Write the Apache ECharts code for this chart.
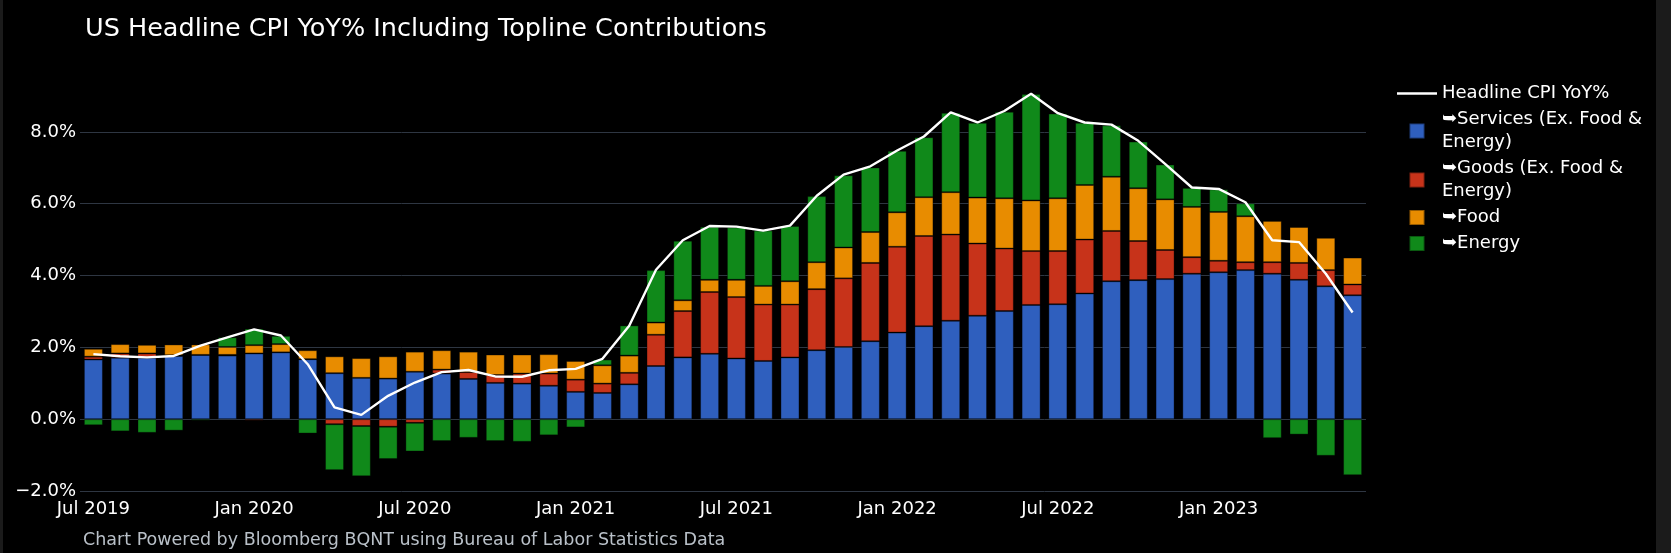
<!DOCTYPE html>
<html>
<head>
<meta charset="utf-8">
<script src="https://cdn.jsdelivr.net/npm/echarts@6/dist/echarts.min.js"></script>
<style>html,body{margin:0;padding:0;background:#000;}#c{width:1671px;height:553px;}</style>
</head>
<body>
<div id="c"></div>
<script>
const categories = ['Jul 2019','Aug 2019','Sep 2019','Oct 2019','Nov 2019','Dec 2019',
  'Jan 2020','Feb 2020','Mar 2020','Apr 2020','May 2020','Jun 2020',
  'Jul 2020','Aug 2020','Sep 2020','Oct 2020','Nov 2020','Dec 2020',
  'Jan 2021','Feb 2021','Mar 2021','Apr 2021','May 2021','Jun 2021',
  'Jul 2021','Aug 2021','Sep 2021','Oct 2021','Nov 2021','Dec 2021',
  'Jan 2022','Feb 2022','Mar 2022','Apr 2022','May 2022','Jun 2022',
  'Jul 2022','Aug 2022','Sep 2022','Oct 2022','Nov 2022','Dec 2022',
  'Jan 2023','Feb 2023','Mar 2023','Apr 2023','May 2023','Jun 2023'];

const services = [1.66,1.71,1.71,1.76,1.79,1.77,1.83,1.86,1.67,1.28,1.15,1.13,
  1.32,1.27,1.12,1.01,0.99,0.93,0.76,0.73,0.97,1.48,1.72,1.82,
  1.69,1.62,1.72,1.92,2.01,2.17,2.41,2.59,2.74,2.88,3.01,3.18,
  3.20,3.50,3.84,3.87,3.90,4.05,4.09,4.15,4.05,3.88,3.70,3.45];
const goods = [0.08,0.12,0.12,0.02,0.00,0.02,-0.04,0.00,0.00,-0.14,-0.19,-0.21,
  -0.10,0.11,0.19,0.22,0.28,0.34,0.34,0.26,0.32,0.87,1.29,1.72,
  1.71,1.57,1.47,1.70,1.91,2.18,2.39,2.51,2.40,2.01,1.74,1.50,
  1.48,1.50,1.40,1.09,0.81,0.46,0.32,0.22,0.32,0.47,0.45,0.30];
const food = [0.22,0.26,0.24,0.30,0.29,0.22,0.23,0.23,0.25,0.47,0.55,0.62,
  0.56,0.54,0.57,0.57,0.53,0.54,0.52,0.51,0.48,0.34,0.30,0.34,
  0.48,0.52,0.65,0.75,0.86,0.86,0.96,1.08,1.18,1.28,1.40,1.41,
  1.47,1.52,1.51,1.47,1.41,1.40,1.36,1.28,1.15,1.00,0.90,0.75];
const energy = [-0.17,-0.34,-0.38,-0.32,-0.04,0.27,0.46,0.23,-0.40,-1.28,-1.40,-0.90,
  -0.80,-0.61,-0.52,-0.61,-0.63,-0.45,-0.23,0.16,0.84,1.46,1.66,1.48,
  1.46,1.54,1.54,1.84,2.01,1.80,1.71,1.67,2.21,2.08,2.41,2.96,
  2.36,1.73,1.43,1.30,0.97,0.53,0.63,0.36,-0.53,-0.43,-1.02,-1.56];
const headline = [1.81,1.75,1.72,1.76,2.05,2.28,2.50,2.33,1.53,0.33,0.12,0.65,
  1.02,1.31,1.37,1.19,1.18,1.36,1.40,1.68,2.60,4.16,4.98,5.38,
  5.36,5.25,5.39,6.22,6.81,7.04,7.48,7.87,8.54,8.26,8.58,9.06,
  8.52,8.26,8.20,7.75,7.11,6.45,6.41,6.04,4.98,4.93,4.05,2.97];
const yTicks = {min: -2, max: 10, interval: 2};

const FONT = 'DejaVu Sans';
const sq = 'path://M0,0h10v10h-10z';
const lineIcon = 'path://M0,0h40v2.4h-40z';
const barBorder = {borderColor: 'rgba(0,0,0,0.35)', borderWidth: 1};

function barSeries(name, data, color) {
  return {
    name: name, type: 'bar', stack: 'c', data: data, barWidth: 19,
    itemStyle: Object.assign({color: color}, barBorder),
    emphasis: {disabled: true}
  };
}

const chart = echarts.init(document.getElementById('c'), null, {renderer: 'canvas'});
chart.setOption({
  backgroundColor: '#000',
  animation: false,
  title: [
    {text: 'US Headline CPI YoY% Including Topline Contributions', left: 80, top: 11,
     textStyle: {color: '#fff', fontSize: 25.5, fontWeight: 'normal', fontFamily: FONT}},
    {text: 'Chart Powered by Bloomberg BQNT using Bureau of Labor Statistics Data', left: 78, top: 526,
     textStyle: {color: '#b9c0c8', fontSize: 17.5, fontWeight: 'normal', fontFamily: FONT}}
  ],
  graphic: [
    {type: 'rect', left: 0, top: 0, shape: {width: 3, height: 553}, style: {fill: '#1b1b1b'}},
    {type: 'rect', right: 0, top: 0, shape: {width: 15, height: 553}, style: {fill: '#1b1b1b'}}
  ],
  legend: {
    orient: 'vertical', left: 1392, top: 77, itemWidth: 40, itemHeight: 15, itemGap: 3,
    selectedMode: false,
    textStyle: {color: '#fff', fontSize: 18, fontFamily: FONT, lineHeight: 23},
    formatter: function (n) { return n.replace('& ', '&\n'); },
    data: [
      {name: 'Headline CPI YoY%', icon: lineIcon},
      {name: '➥Services (Ex. Food & Energy)', icon: sq},
      {name: '➥Goods (Ex. Food & Energy)', icon: sq},
      {name: '➥Food', icon: sq},
      {name: '➥Energy', icon: sq}
    ]
  },
  grid: {left: 80, right: 305, top: 60, bottom: 62, containLabel: false},
  xAxis: {
    type: 'category', data: categories, boundaryGap: true,
    axisLine: {show: false}, axisTick: {show: false},
    axisLabel: {interval: 5, color: '#fff', fontSize: 18, fontFamily: FONT, margin: 9}
  },
  yAxis: {
    type: 'value', min: yTicks.min, max: yTicks.max, interval: yTicks.interval,
    axisLine: {show: false}, axisTick: {show: false},
    splitLine: {show: true, showMaxLine: false, lineStyle: {color: '#2e3642', width: 1}},
    axisLabel: {
      color: '#fff', fontSize: 18, fontFamily: FONT, margin: 4,
      formatter: function (v) {
        if (v >= yTicks.max) return '';
        return (v < 0 ? '\u2212' : '') + Math.abs(v).toFixed(1) + '%';
      }
    }
  },
  series: [
    barSeries('➥Services (Ex. Food & Energy)', services, '#2f5fbe'),
    barSeries('➥Goods (Ex. Food & Energy)', goods, '#c7331a'),
    barSeries('➥Food', food, '#e88c00'),
    barSeries('➥Energy', energy, '#10891a'),
    {
      name: 'Headline CPI YoY%', type: 'line', data: headline, symbol: 'none',
      lineStyle: {color: '#fff', width: 2.4}, itemStyle: {color: '#fff'}, z: 5,
      emphasis: {disabled: true}
    }
  ]
});
</script>
</body>
</html>
